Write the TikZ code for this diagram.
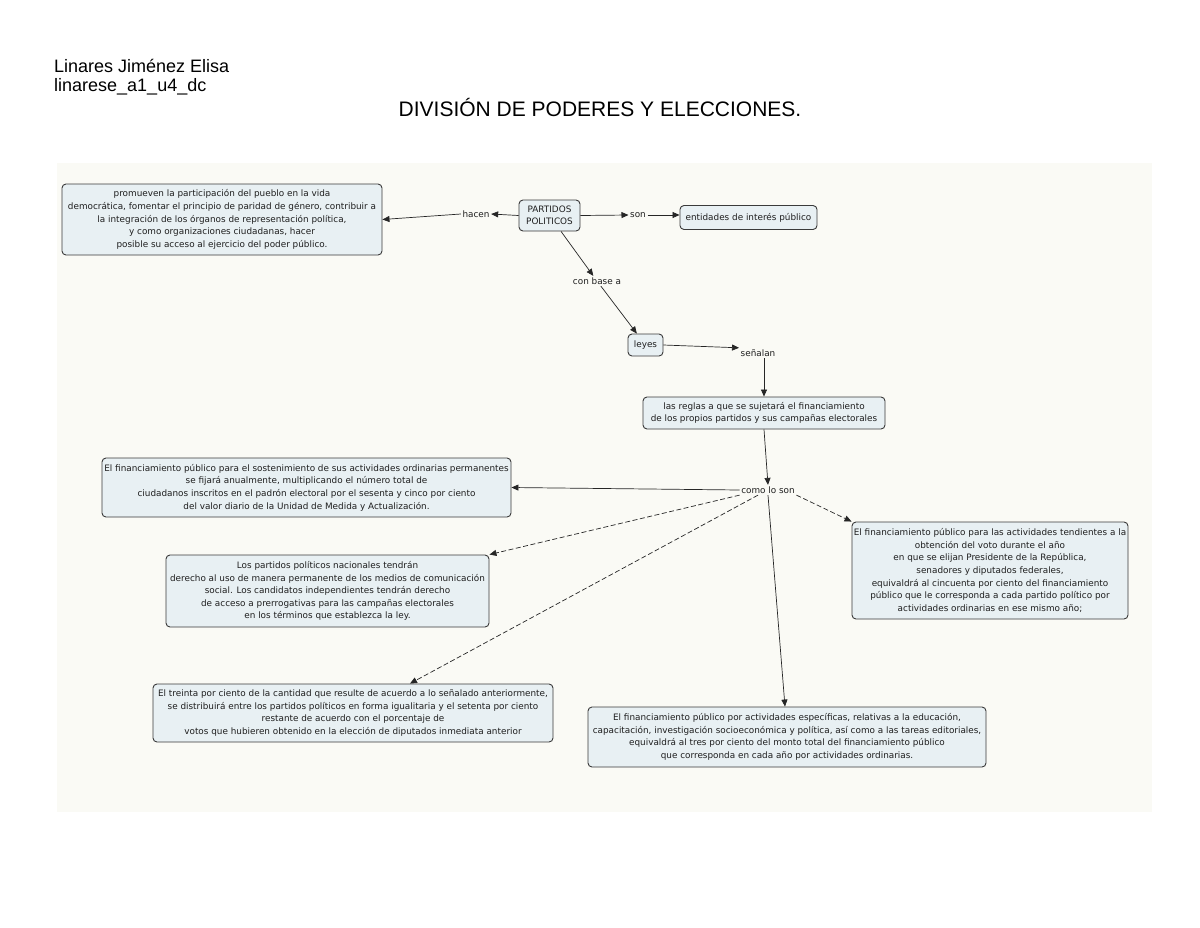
\documentclass[tikz,border=0pt]{standalone}
\usepackage{fontspec}
\setmainfont{DejaVu Sans}
\newfontfamily\arialf{Liberation Sans}
\usetikzlibrary{arrows.meta}
\definecolor{boxfill}{HTML}{E8F0F3}
\definecolor{boxdraw}{HTML}{3A3A3A}
\definecolor{bgcream}{HTML}{FAFAF5}
\begin{document}
\begin{tikzpicture}[x=1pt,y=-1pt,
  concept/.style={draw=boxdraw, fill=boxfill, rounded corners=4pt, line width=0.9pt, align=center,
    font=\fontsize{8.85}{12.6}\selectfont, inner sep=1.5pt, text=black!88},
  lbl/.style={font=\fontsize{8.85}{10}\selectfont, inner sep=1.5pt, text=black!88},
  link/.style={-{Triangle[length=7pt,width=6pt]}, line width=0.7pt, draw=black!85},
  dlink/.style={link, dash pattern=on 5pt off 2.5pt}]
\useasboundingbox (0,0) rectangle (1200,927);
\fill[white] (0,0) rectangle (1200,927);
\fill[bgcream] (57,163) rectangle (1152,812);

% header
\node[anchor=west, font=\arialf\fontsize{18}{20}\selectfont, inner sep=0pt] (author) at (54,66) {Linares Jiménez Elisa};
\node[anchor=west, font=\arialf\fontsize{18}{20}\selectfont, inner sep=0pt] (code) at (54,87) {linarese\_a1\_u4\_dc};
\node[font=\arialf\fontsize{21}{24}\selectfont, inner sep=0pt] (title) at (600,107) {DIVISIÓN DE PODERES Y ELECCIONES.};

% concepts
\node[concept, minimum width=320pt, minimum height=71pt] (prom) at (222,219.5)
 {promueven la participación del pueblo en la vida\\
  democrática, fomentar el principio de paridad de género, contribuir a\\
  la integración de los órganos de representación política,\\
  y como organizaciones ciudadanas, hacer\\
  posible su acceso al ejercicio del poder público.};
\node[concept, minimum width=61pt, minimum height=31pt, font=\fontsize{8.85}{11.5}\selectfont] (pp) at (549.5,215.5) {PARTIDOS\\POLITICOS};
\node[concept, minimum width=137pt, minimum height=24pt] (ent) at (748.5,217.5) {entidades de interés público};
\node[concept, minimum width=35pt, minimum height=22pt] (leyes) at (645.5,345) {leyes};
\node[concept, minimum width=242pt, minimum height=32pt] (reglas) at (764,413)
 {las reglas a que se sujetará el financiamiento\\de los propios partidos y sus campañas electorales};
\node[concept, minimum width=409pt, minimum height=59pt] (fin1) at (306.5,487.5)
 {El financiamiento público para el sostenimiento de sus actividades ordinarias permanentes\\
  se fijará anualmente, multiplicando el número total de\\
  ciudadanos inscritos en el padrón electoral por el sesenta y cinco por ciento\\
  del valor diario de la Unidad de Medida y Actualización.};
\node[concept, minimum width=276pt, minimum height=97pt] (fin2) at (990,570.5)
 {El financiamiento público para las actividades tendientes a la\\
  obtención del voto durante el año\\
  en que se elijan Presidente de la República,\\
  senadores y diputados federales,\\
  equivaldrá al cincuenta por ciento del financiamiento\\
  público que le corresponda a cada partido político por\\
  actividades ordinarias en ese mismo año;};
\node[concept, minimum width=323pt, minimum height=72pt] (medios) at (327.5,591)
 {Los partidos políticos nacionales tendrán\\
  derecho al uso de manera permanente de los medios de comunicación\\
  social. Los candidatos independientes tendrán derecho\\
  de acceso a prerrogativas para las campañas electorales\\
  en los términos que establezca la ley.};
\node[concept, minimum width=400pt, minimum height=58pt] (treinta) at (353,713)
 {El treinta por ciento de la cantidad que resulte de acuerdo a lo señalado anteriormente,\\
  se distribuirá entre los partidos políticos en forma igualitaria y el setenta por ciento\\
  restante de acuerdo con el porcentaje de\\
  votos que hubieren obtenido en la elección de diputados inmediata anterior};
\node[concept, minimum width=398pt, minimum height=60pt] (espec) at (787,737)
 {El financiamiento público por actividades específicas, relativas a la educación,\\
  capacitación, investigación socioeconómica y política, así como a las tareas editoriales,\\
  equivaldrá al tres por ciento del monto total del financiamiento público\\
  que corresponda en cada año por actividades ordinarias.};

% linking phrases
\node[lbl] (hacen) at (476,214) {hacen};
\node[lbl] (son) at (638,215) {son};
\node[lbl] (conbase) at (597,281) {con base a};
\node[lbl] (senalan) at (758,353) {señalan};
\node[lbl] (comolo) at (768,490) {como lo son};

% connectors
\draw[link] (pp.west) -- (hacen.east);
\draw[link] (hacen.west) -- (prom.east);
\draw[link] (pp.east) -- (son.west);
\draw[link] (son.east) -- (son.east -| ent.west);
\draw[link] (pp) -- (conbase);
\draw[link] (conbase) -- (leyes);
\draw[link] (leyes.east) -- (senalan.north west);
\draw[link] (senalan.south -| reglas.north) -- (reglas.north);
\draw[link] (reglas.south) -- (comolo.north);
\draw[link] (comolo.west) -- (fin1.east);
\draw[dlink] (comolo.south east) -- (fin2.north west);
\draw[dlink] (comolo.south west) -- (medios.north east);
\draw[dlink] ([xshift=-10pt]comolo.south) -- ([xshift=57pt]treinta.north);
\draw[link] (comolo.south) -- ([xshift=-2pt]espec.north);
\end{tikzpicture}
\end{document}
